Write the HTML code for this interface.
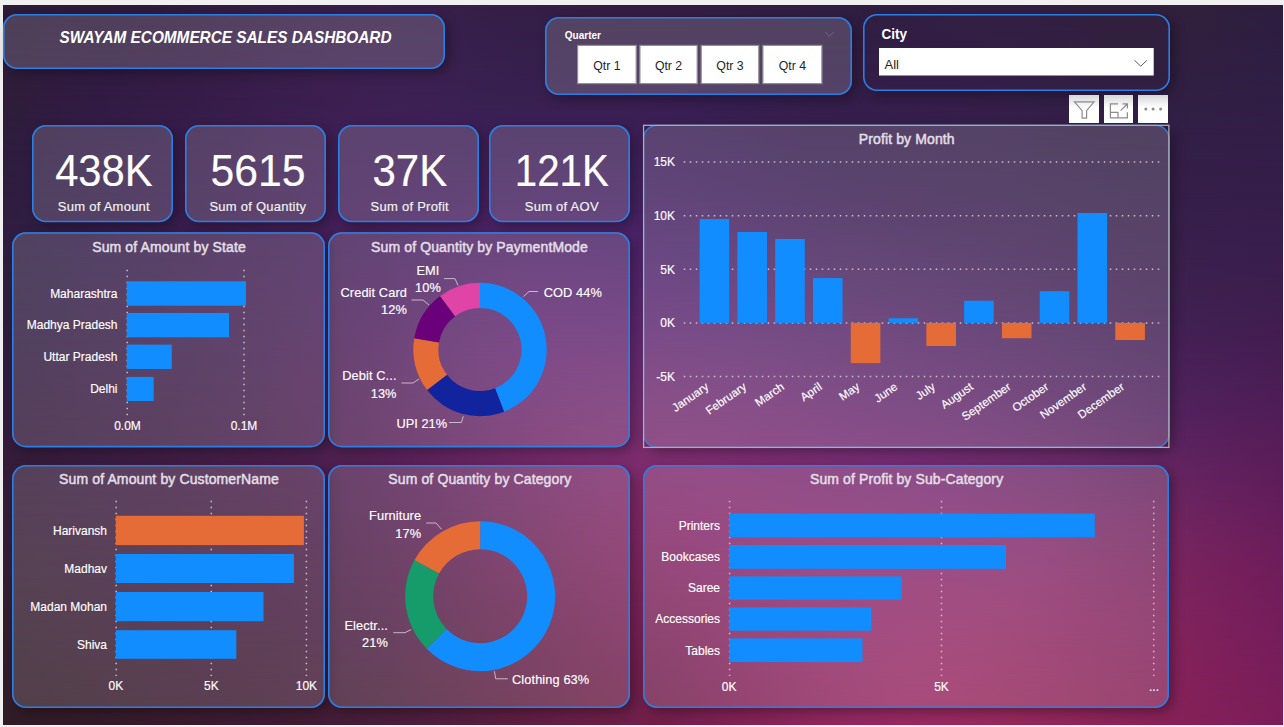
<!DOCTYPE html><html><head><meta charset="utf-8"><style>
html,body{margin:0;padding:0;width:1284px;height:727px;overflow:hidden;background:#f0f0f0;}
body{font-family:"Liberation Sans",sans-serif;position:relative;}
#canvas{position:absolute;left:3px;top:5px;width:1280px;height:720px;overflow:hidden;background:#3a2050;}
.b{position:absolute;left:-3px;width:1284px;}
.p{position:absolute;box-sizing:border-box;border-radius:14px;background:rgba(255,255,255,0.16);box-shadow:4px 4px 12px rgba(0,0,0,0.32);}
svg{position:absolute;left:0;top:0;}
text{font-family:"Liberation Sans",sans-serif;}
</style></head><body>
<div id="canvas"><div class="b" style="top:-5px;height:32px;background:linear-gradient(to right,rgb(44,28,54) 0.00%,rgb(45,27,57) 3.74%,rgb(46,27,57) 7.48%,rgb(47,27,59) 11.21%,rgb(49,28,62) 14.95%,rgb(51,29,66) 18.69%,rgb(53,30,69) 22.43%,rgb(55,30,71) 26.17%,rgb(56,31,72) 29.91%,rgb(55,31,72) 33.64%,rgb(53,31,71) 37.38%,rgb(51,31,69) 41.12%,rgb(50,30,67) 44.86%,rgb(50,30,65) 48.60%,rgb(49,30,65) 52.34%,rgb(49,30,65) 56.07%,rgb(48,29,65) 59.81%,rgb(48,30,65) 63.55%,rgb(48,30,65) 67.29%,rgb(49,30,66) 71.03%,rgb(50,31,66) 74.77%,rgb(50,31,65) 78.50%,rgb(50,32,63) 82.24%,rgb(49,32,61) 85.98%,rgb(49,32,60) 89.72%,rgb(48,32,59) 93.46%,rgb(45,30,63) 100.00%)"></div><div class="b" style="top:-5px;height:32px;background:linear-gradient(to right,rgb(45,28,57) 0.00%,rgb(47,28,60) 3.74%,rgb(47,27,61) 7.48%,rgb(48,27,63) 11.21%,rgb(51,28,66) 14.95%,rgb(53,29,69) 18.69%,rgb(55,30,72) 22.43%,rgb(57,31,75) 26.17%,rgb(58,31,76) 29.91%,rgb(57,32,77) 33.64%,rgb(54,31,75) 37.38%,rgb(52,31,73) 41.12%,rgb(52,31,71) 44.86%,rgb(51,30,69) 48.60%,rgb(51,30,69) 52.34%,rgb(50,30,69) 56.07%,rgb(50,30,69) 59.81%,rgb(49,30,68) 63.55%,rgb(49,30,68) 67.29%,rgb(50,30,68) 71.03%,rgb(51,31,69) 74.77%,rgb(51,31,68) 78.50%,rgb(50,31,66) 82.24%,rgb(50,32,63) 85.98%,rgb(49,32,62) 89.72%,rgb(48,32,62) 93.46%,rgb(46,29,66) 100.00%);-webkit-mask-image:linear-gradient(to bottom,transparent,#000);mask-image:linear-gradient(to bottom,transparent,#000)"></div><div class="b" style="top:27px;height:32px;background:linear-gradient(to right,rgb(45,28,57) 0.00%,rgb(47,28,60) 3.74%,rgb(47,27,61) 7.48%,rgb(48,27,63) 11.21%,rgb(51,28,66) 14.95%,rgb(53,29,69) 18.69%,rgb(55,30,72) 22.43%,rgb(57,31,75) 26.17%,rgb(58,31,76) 29.91%,rgb(57,32,77) 33.64%,rgb(54,31,75) 37.38%,rgb(52,31,73) 41.12%,rgb(52,31,71) 44.86%,rgb(51,30,69) 48.60%,rgb(51,30,69) 52.34%,rgb(50,30,69) 56.07%,rgb(50,30,69) 59.81%,rgb(49,30,68) 63.55%,rgb(49,30,68) 67.29%,rgb(50,30,68) 71.03%,rgb(51,31,69) 74.77%,rgb(51,31,68) 78.50%,rgb(50,31,66) 82.24%,rgb(50,32,63) 85.98%,rgb(49,32,62) 89.72%,rgb(48,32,62) 93.46%,rgb(46,29,66) 100.00%)"></div><div class="b" style="top:27px;height:32px;background:linear-gradient(to right,rgb(46,29,58) 0.00%,rgb(48,28,62) 3.74%,rgb(48,27,64) 7.48%,rgb(50,28,66) 11.21%,rgb(52,28,69) 14.95%,rgb(54,29,72) 18.69%,rgb(57,30,75) 22.43%,rgb(59,31,78) 26.17%,rgb(60,32,80) 29.91%,rgb(59,32,80) 33.64%,rgb(56,32,79) 37.38%,rgb(54,31,77) 41.12%,rgb(53,31,75) 44.86%,rgb(53,31,74) 48.60%,rgb(53,30,74) 52.34%,rgb(52,30,74) 56.07%,rgb(51,30,73) 59.81%,rgb(51,30,72) 63.55%,rgb(51,30,71) 67.29%,rgb(51,30,71) 71.03%,rgb(51,30,71) 74.77%,rgb(51,31,70) 78.50%,rgb(51,31,68) 82.24%,rgb(50,31,65) 85.98%,rgb(49,31,64) 89.72%,rgb(49,31,65) 93.46%,rgb(47,30,68) 100.00%);-webkit-mask-image:linear-gradient(to bottom,transparent,#000);mask-image:linear-gradient(to bottom,transparent,#000)"></div><div class="b" style="top:59px;height:32px;background:linear-gradient(to right,rgb(46,29,58) 0.00%,rgb(48,28,62) 3.74%,rgb(48,27,64) 7.48%,rgb(50,28,66) 11.21%,rgb(52,28,69) 14.95%,rgb(54,29,72) 18.69%,rgb(57,30,75) 22.43%,rgb(59,31,78) 26.17%,rgb(60,32,80) 29.91%,rgb(59,32,80) 33.64%,rgb(56,32,79) 37.38%,rgb(54,31,77) 41.12%,rgb(53,31,75) 44.86%,rgb(53,31,74) 48.60%,rgb(53,30,74) 52.34%,rgb(52,30,74) 56.07%,rgb(51,30,73) 59.81%,rgb(51,30,72) 63.55%,rgb(51,30,71) 67.29%,rgb(51,30,71) 71.03%,rgb(51,30,71) 74.77%,rgb(51,31,70) 78.50%,rgb(51,31,68) 82.24%,rgb(50,31,65) 85.98%,rgb(49,31,64) 89.72%,rgb(49,31,65) 93.46%,rgb(47,30,68) 100.00%)"></div><div class="b" style="top:59px;height:32px;background:linear-gradient(to right,rgb(46,29,57) 0.00%,rgb(48,28,63) 3.74%,rgb(49,27,67) 7.48%,rgb(51,28,69) 11.21%,rgb(53,28,72) 14.95%,rgb(56,29,75) 18.69%,rgb(58,30,78) 22.43%,rgb(60,31,81) 26.17%,rgb(61,32,83) 29.91%,rgb(60,32,84) 33.64%,rgb(57,32,82) 37.38%,rgb(56,32,81) 41.12%,rgb(56,31,80) 44.86%,rgb(56,31,80) 48.60%,rgb(56,31,80) 52.34%,rgb(54,30,79) 56.07%,rgb(53,30,77) 59.81%,rgb(52,30,75) 63.55%,rgb(52,30,74) 67.29%,rgb(52,30,73) 71.03%,rgb(52,30,73) 74.77%,rgb(52,31,71) 78.50%,rgb(51,31,69) 82.24%,rgb(50,30,67) 85.98%,rgb(50,31,67) 89.72%,rgb(49,31,67) 93.46%,rgb(48,30,70) 100.00%);-webkit-mask-image:linear-gradient(to bottom,transparent,#000);mask-image:linear-gradient(to bottom,transparent,#000)"></div><div class="b" style="top:91px;height:32px;background:linear-gradient(to right,rgb(46,29,57) 0.00%,rgb(48,28,63) 3.74%,rgb(49,27,67) 7.48%,rgb(51,28,69) 11.21%,rgb(53,28,72) 14.95%,rgb(56,29,75) 18.69%,rgb(58,30,78) 22.43%,rgb(60,31,81) 26.17%,rgb(61,32,83) 29.91%,rgb(60,32,84) 33.64%,rgb(57,32,82) 37.38%,rgb(56,32,81) 41.12%,rgb(56,31,80) 44.86%,rgb(56,31,80) 48.60%,rgb(56,31,80) 52.34%,rgb(54,30,79) 56.07%,rgb(53,30,77) 59.81%,rgb(52,30,75) 63.55%,rgb(52,30,74) 67.29%,rgb(52,30,73) 71.03%,rgb(52,30,73) 74.77%,rgb(52,31,71) 78.50%,rgb(51,31,69) 82.24%,rgb(50,30,67) 85.98%,rgb(50,31,67) 89.72%,rgb(49,31,67) 93.46%,rgb(48,30,70) 100.00%)"></div><div class="b" style="top:91px;height:32px;background:linear-gradient(to right,rgb(46,29,59) 0.00%,rgb(48,28,65) 3.74%,rgb(50,28,69) 7.48%,rgb(52,28,72) 11.21%,rgb(55,29,74) 14.95%,rgb(57,30,77) 18.69%,rgb(60,31,81) 22.43%,rgb(62,31,84) 26.17%,rgb(63,32,86) 29.91%,rgb(62,32,87) 33.64%,rgb(60,32,86) 37.38%,rgb(59,32,85) 41.12%,rgb(59,32,85) 44.86%,rgb(59,32,85) 48.60%,rgb(59,31,86) 52.34%,rgb(57,31,84) 56.07%,rgb(56,31,81) 59.81%,rgb(54,30,78) 63.55%,rgb(54,30,77) 67.29%,rgb(54,30,76) 71.03%,rgb(53,31,75) 74.77%,rgb(53,31,73) 78.50%,rgb(52,30,71) 82.24%,rgb(51,30,69) 85.98%,rgb(50,30,69) 89.72%,rgb(50,31,70) 93.46%,rgb(50,30,72) 100.00%);-webkit-mask-image:linear-gradient(to bottom,transparent,#000);mask-image:linear-gradient(to bottom,transparent,#000)"></div><div class="b" style="top:123px;height:32px;background:linear-gradient(to right,rgb(46,29,59) 0.00%,rgb(48,28,65) 3.74%,rgb(50,28,69) 7.48%,rgb(52,28,72) 11.21%,rgb(55,29,74) 14.95%,rgb(57,30,77) 18.69%,rgb(60,31,81) 22.43%,rgb(62,31,84) 26.17%,rgb(63,32,86) 29.91%,rgb(62,32,87) 33.64%,rgb(60,32,86) 37.38%,rgb(59,32,85) 41.12%,rgb(59,32,85) 44.86%,rgb(59,32,85) 48.60%,rgb(59,31,86) 52.34%,rgb(57,31,84) 56.07%,rgb(56,31,81) 59.81%,rgb(54,30,78) 63.55%,rgb(54,30,77) 67.29%,rgb(54,30,76) 71.03%,rgb(53,31,75) 74.77%,rgb(53,31,73) 78.50%,rgb(52,30,71) 82.24%,rgb(51,30,69) 85.98%,rgb(50,30,69) 89.72%,rgb(50,31,70) 93.46%,rgb(50,30,72) 100.00%)"></div><div class="b" style="top:123px;height:32px;background:linear-gradient(to right,rgb(46,29,61) 0.00%,rgb(48,28,67) 3.74%,rgb(51,28,71) 7.48%,rgb(53,29,74) 11.21%,rgb(56,29,76) 14.95%,rgb(59,30,79) 18.69%,rgb(62,31,83) 22.43%,rgb(64,32,86) 26.17%,rgb(65,32,89) 29.91%,rgb(65,33,90) 33.64%,rgb(64,33,91) 37.38%,rgb(64,33,91) 41.12%,rgb(64,33,91) 44.86%,rgb(64,33,91) 48.60%,rgb(63,32,91) 52.34%,rgb(61,32,89) 56.07%,rgb(59,31,85) 59.81%,rgb(57,31,82) 63.55%,rgb(56,31,80) 67.29%,rgb(56,31,78) 71.03%,rgb(55,31,77) 74.77%,rgb(55,31,76) 78.50%,rgb(54,31,74) 82.24%,rgb(52,30,72) 85.98%,rgb(52,30,71) 89.72%,rgb(51,31,72) 93.46%,rgb(51,30,73) 100.00%);-webkit-mask-image:linear-gradient(to bottom,transparent,#000);mask-image:linear-gradient(to bottom,transparent,#000)"></div><div class="b" style="top:155px;height:32px;background:linear-gradient(to right,rgb(46,29,61) 0.00%,rgb(48,28,67) 3.74%,rgb(51,28,71) 7.48%,rgb(53,29,74) 11.21%,rgb(56,29,76) 14.95%,rgb(59,30,79) 18.69%,rgb(62,31,83) 22.43%,rgb(64,32,86) 26.17%,rgb(65,32,89) 29.91%,rgb(65,33,90) 33.64%,rgb(64,33,91) 37.38%,rgb(64,33,91) 41.12%,rgb(64,33,91) 44.86%,rgb(64,33,91) 48.60%,rgb(63,32,91) 52.34%,rgb(61,32,89) 56.07%,rgb(59,31,85) 59.81%,rgb(57,31,82) 63.55%,rgb(56,31,80) 67.29%,rgb(56,31,78) 71.03%,rgb(55,31,77) 74.77%,rgb(55,31,76) 78.50%,rgb(54,31,74) 82.24%,rgb(52,30,72) 85.98%,rgb(52,30,71) 89.72%,rgb(51,31,72) 93.46%,rgb(51,30,73) 100.00%)"></div><div class="b" style="top:155px;height:32px;background:linear-gradient(to right,rgb(46,29,63) 0.00%,rgb(49,29,68) 3.74%,rgb(51,29,72) 7.48%,rgb(54,29,75) 11.21%,rgb(57,30,78) 14.95%,rgb(60,30,81) 18.69%,rgb(63,31,84) 22.43%,rgb(66,32,88) 26.17%,rgb(68,33,91) 29.91%,rgb(69,33,94) 33.64%,rgb(69,34,95) 37.38%,rgb(69,34,96) 41.12%,rgb(69,34,96) 44.86%,rgb(68,34,97) 48.60%,rgb(67,34,96) 52.34%,rgb(65,33,94) 56.07%,rgb(63,33,90) 59.81%,rgb(61,32,86) 63.55%,rgb(60,32,84) 67.29%,rgb(59,32,82) 71.03%,rgb(58,32,80) 74.77%,rgb(57,32,79) 78.50%,rgb(56,31,76) 82.24%,rgb(54,31,74) 85.98%,rgb(53,31,73) 89.72%,rgb(53,31,73) 93.46%,rgb(53,30,74) 100.00%);-webkit-mask-image:linear-gradient(to bottom,transparent,#000);mask-image:linear-gradient(to bottom,transparent,#000)"></div><div class="b" style="top:187px;height:32px;background:linear-gradient(to right,rgb(46,29,63) 0.00%,rgb(49,29,68) 3.74%,rgb(51,29,72) 7.48%,rgb(54,29,75) 11.21%,rgb(57,30,78) 14.95%,rgb(60,30,81) 18.69%,rgb(63,31,84) 22.43%,rgb(66,32,88) 26.17%,rgb(68,33,91) 29.91%,rgb(69,33,94) 33.64%,rgb(69,34,95) 37.38%,rgb(69,34,96) 41.12%,rgb(69,34,96) 44.86%,rgb(68,34,97) 48.60%,rgb(67,34,96) 52.34%,rgb(65,33,94) 56.07%,rgb(63,33,90) 59.81%,rgb(61,32,86) 63.55%,rgb(60,32,84) 67.29%,rgb(59,32,82) 71.03%,rgb(58,32,80) 74.77%,rgb(57,32,79) 78.50%,rgb(56,31,76) 82.24%,rgb(54,31,74) 85.98%,rgb(53,31,73) 89.72%,rgb(53,31,73) 93.46%,rgb(53,30,74) 100.00%)"></div><div class="b" style="top:187px;height:32px;background:linear-gradient(to right,rgb(47,30,64) 0.00%,rgb(49,29,69) 3.74%,rgb(52,29,73) 7.48%,rgb(55,30,76) 11.21%,rgb(58,30,78) 14.95%,rgb(62,31,81) 18.69%,rgb(65,31,85) 22.43%,rgb(68,32,89) 26.17%,rgb(71,33,93) 29.91%,rgb(73,34,97) 33.64%,rgb(75,35,99) 37.38%,rgb(75,35,101) 41.12%,rgb(75,35,102) 44.86%,rgb(74,35,102) 48.60%,rgb(72,35,101) 52.34%,rgb(70,35,99) 56.07%,rgb(68,34,95) 59.81%,rgb(66,34,91) 63.55%,rgb(65,34,88) 67.29%,rgb(63,33,86) 71.03%,rgb(62,33,84) 74.77%,rgb(61,33,82) 78.50%,rgb(59,32,80) 82.24%,rgb(57,32,77) 85.98%,rgb(56,31,75) 89.72%,rgb(55,31,75) 93.46%,rgb(55,30,75) 100.00%);-webkit-mask-image:linear-gradient(to bottom,transparent,#000);mask-image:linear-gradient(to bottom,transparent,#000)"></div><div class="b" style="top:219px;height:32px;background:linear-gradient(to right,rgb(47,30,64) 0.00%,rgb(49,29,69) 3.74%,rgb(52,29,73) 7.48%,rgb(55,30,76) 11.21%,rgb(58,30,78) 14.95%,rgb(62,31,81) 18.69%,rgb(65,31,85) 22.43%,rgb(68,32,89) 26.17%,rgb(71,33,93) 29.91%,rgb(73,34,97) 33.64%,rgb(75,35,99) 37.38%,rgb(75,35,101) 41.12%,rgb(75,35,102) 44.86%,rgb(74,35,102) 48.60%,rgb(72,35,101) 52.34%,rgb(70,35,99) 56.07%,rgb(68,34,95) 59.81%,rgb(66,34,91) 63.55%,rgb(65,34,88) 67.29%,rgb(63,33,86) 71.03%,rgb(62,33,84) 74.77%,rgb(61,33,82) 78.50%,rgb(59,32,80) 82.24%,rgb(57,32,77) 85.98%,rgb(56,31,75) 89.72%,rgb(55,31,75) 93.46%,rgb(55,30,75) 100.00%)"></div><div class="b" style="top:219px;height:32px;background:linear-gradient(to right,rgb(47,30,65) 0.00%,rgb(50,30,69) 3.74%,rgb(53,30,73) 7.48%,rgb(56,30,76) 11.21%,rgb(60,30,78) 14.95%,rgb(63,31,81) 18.69%,rgb(67,32,85) 22.43%,rgb(70,32,90) 26.17%,rgb(74,33,95) 29.91%,rgb(78,35,100) 33.64%,rgb(81,36,103) 37.38%,rgb(82,36,105) 41.12%,rgb(82,36,106) 44.86%,rgb(80,36,107) 48.60%,rgb(78,37,106) 52.34%,rgb(76,37,104) 56.07%,rgb(75,36,100) 59.81%,rgb(73,36,96) 63.55%,rgb(71,36,93) 67.29%,rgb(69,35,91) 71.03%,rgb(67,35,89) 74.77%,rgb(65,34,86) 78.50%,rgb(63,33,83) 82.24%,rgb(61,33,80) 85.98%,rgb(59,32,78) 89.72%,rgb(58,31,77) 93.46%,rgb(57,30,77) 100.00%);-webkit-mask-image:linear-gradient(to bottom,transparent,#000);mask-image:linear-gradient(to bottom,transparent,#000)"></div><div class="b" style="top:251px;height:32px;background:linear-gradient(to right,rgb(47,30,65) 0.00%,rgb(50,30,69) 3.74%,rgb(53,30,73) 7.48%,rgb(56,30,76) 11.21%,rgb(60,30,78) 14.95%,rgb(63,31,81) 18.69%,rgb(67,32,85) 22.43%,rgb(70,32,90) 26.17%,rgb(74,33,95) 29.91%,rgb(78,35,100) 33.64%,rgb(81,36,103) 37.38%,rgb(82,36,105) 41.12%,rgb(82,36,106) 44.86%,rgb(80,36,107) 48.60%,rgb(78,37,106) 52.34%,rgb(76,37,104) 56.07%,rgb(75,36,100) 59.81%,rgb(73,36,96) 63.55%,rgb(71,36,93) 67.29%,rgb(69,35,91) 71.03%,rgb(67,35,89) 74.77%,rgb(65,34,86) 78.50%,rgb(63,33,83) 82.24%,rgb(61,33,80) 85.98%,rgb(59,32,78) 89.72%,rgb(58,31,77) 93.46%,rgb(57,30,77) 100.00%)"></div><div class="b" style="top:251px;height:32px;background:linear-gradient(to right,rgb(48,30,65) 0.00%,rgb(50,30,69) 3.74%,rgb(54,30,72) 7.48%,rgb(57,30,75) 11.21%,rgb(61,31,78) 14.95%,rgb(65,31,81) 18.69%,rgb(69,32,85) 22.43%,rgb(73,32,90) 26.17%,rgb(77,33,96) 29.91%,rgb(82,35,102) 33.64%,rgb(87,37,106) 37.38%,rgb(89,38,109) 41.12%,rgb(89,38,110) 44.86%,rgb(87,38,110) 48.60%,rgb(85,39,110) 52.34%,rgb(84,39,108) 56.07%,rgb(82,39,104) 59.81%,rgb(80,38,101) 63.55%,rgb(77,38,98) 67.29%,rgb(75,37,96) 71.03%,rgb(73,36,93) 74.77%,rgb(70,36,90) 78.50%,rgb(67,35,87) 82.24%,rgb(65,34,84) 85.98%,rgb(62,33,81) 89.72%,rgb(61,32,79) 93.46%,rgb(61,30,78) 100.00%);-webkit-mask-image:linear-gradient(to bottom,transparent,#000);mask-image:linear-gradient(to bottom,transparent,#000)"></div><div class="b" style="top:283px;height:32px;background:linear-gradient(to right,rgb(48,30,65) 0.00%,rgb(50,30,69) 3.74%,rgb(54,30,72) 7.48%,rgb(57,30,75) 11.21%,rgb(61,31,78) 14.95%,rgb(65,31,81) 18.69%,rgb(69,32,85) 22.43%,rgb(73,32,90) 26.17%,rgb(77,33,96) 29.91%,rgb(82,35,102) 33.64%,rgb(87,37,106) 37.38%,rgb(89,38,109) 41.12%,rgb(89,38,110) 44.86%,rgb(87,38,110) 48.60%,rgb(85,39,110) 52.34%,rgb(84,39,108) 56.07%,rgb(82,39,104) 59.81%,rgb(80,38,101) 63.55%,rgb(77,38,98) 67.29%,rgb(75,37,96) 71.03%,rgb(73,36,93) 74.77%,rgb(70,36,90) 78.50%,rgb(67,35,87) 82.24%,rgb(65,34,84) 85.98%,rgb(62,33,81) 89.72%,rgb(61,32,79) 93.46%,rgb(61,30,78) 100.00%)"></div><div class="b" style="top:283px;height:32px;background:linear-gradient(to right,rgb(48,29,64) 0.00%,rgb(51,29,68) 3.74%,rgb(55,30,71) 7.48%,rgb(58,30,74) 11.21%,rgb(62,31,77) 14.95%,rgb(66,31,80) 18.69%,rgb(70,32,84) 22.43%,rgb(75,32,90) 26.17%,rgb(80,33,96) 29.91%,rgb(87,36,103) 33.64%,rgb(92,39,108) 37.38%,rgb(95,39,111) 41.12%,rgb(96,39,112) 44.86%,rgb(95,40,113) 48.60%,rgb(93,41,113) 52.34%,rgb(91,41,111) 56.07%,rgb(90,41,108) 59.81%,rgb(87,40,106) 63.55%,rgb(85,40,103) 67.29%,rgb(82,39,101) 71.03%,rgb(79,38,98) 74.77%,rgb(76,37,95) 78.50%,rgb(73,36,92) 82.24%,rgb(69,35,88) 85.98%,rgb(67,33,85) 89.72%,rgb(65,32,82) 93.46%,rgb(64,29,80) 100.00%);-webkit-mask-image:linear-gradient(to bottom,transparent,#000);mask-image:linear-gradient(to bottom,transparent,#000)"></div><div class="b" style="top:315px;height:32px;background:linear-gradient(to right,rgb(48,29,64) 0.00%,rgb(51,29,68) 3.74%,rgb(55,30,71) 7.48%,rgb(58,30,74) 11.21%,rgb(62,31,77) 14.95%,rgb(66,31,80) 18.69%,rgb(70,32,84) 22.43%,rgb(75,32,90) 26.17%,rgb(80,33,96) 29.91%,rgb(87,36,103) 33.64%,rgb(92,39,108) 37.38%,rgb(95,39,111) 41.12%,rgb(96,39,112) 44.86%,rgb(95,40,113) 48.60%,rgb(93,41,113) 52.34%,rgb(91,41,111) 56.07%,rgb(90,41,108) 59.81%,rgb(87,40,106) 63.55%,rgb(85,40,103) 67.29%,rgb(82,39,101) 71.03%,rgb(79,38,98) 74.77%,rgb(76,37,95) 78.50%,rgb(73,36,92) 82.24%,rgb(69,35,88) 85.98%,rgb(67,33,85) 89.72%,rgb(65,32,82) 93.46%,rgb(64,29,80) 100.00%)"></div><div class="b" style="top:315px;height:32px;background:linear-gradient(to right,rgb(49,29,63) 0.00%,rgb(52,29,66) 3.74%,rgb(56,29,70) 7.48%,rgb(59,30,73) 11.21%,rgb(63,31,76) 14.95%,rgb(67,31,79) 18.69%,rgb(72,32,83) 22.43%,rgb(77,32,88) 26.17%,rgb(83,34,95) 29.91%,rgb(90,37,103) 33.64%,rgb(97,40,109) 37.38%,rgb(101,41,112) 41.12%,rgb(103,41,113) 44.86%,rgb(103,42,114) 48.60%,rgb(102,43,114) 52.34%,rgb(100,44,113) 56.07%,rgb(98,43,111) 59.81%,rgb(95,42,109) 63.55%,rgb(92,41,107) 67.29%,rgb(89,41,105) 71.03%,rgb(86,40,102) 74.77%,rgb(83,39,99) 78.50%,rgb(79,38,96) 82.24%,rgb(75,36,92) 85.98%,rgb(72,34,89) 89.72%,rgb(70,32,86) 93.46%,rgb(69,29,83) 100.00%);-webkit-mask-image:linear-gradient(to bottom,transparent,#000);mask-image:linear-gradient(to bottom,transparent,#000)"></div><div class="b" style="top:347px;height:32px;background:linear-gradient(to right,rgb(49,29,63) 0.00%,rgb(52,29,66) 3.74%,rgb(56,29,70) 7.48%,rgb(59,30,73) 11.21%,rgb(63,31,76) 14.95%,rgb(67,31,79) 18.69%,rgb(72,32,83) 22.43%,rgb(77,32,88) 26.17%,rgb(83,34,95) 29.91%,rgb(90,37,103) 33.64%,rgb(97,40,109) 37.38%,rgb(101,41,112) 41.12%,rgb(103,41,113) 44.86%,rgb(103,42,114) 48.60%,rgb(102,43,114) 52.34%,rgb(100,44,113) 56.07%,rgb(98,43,111) 59.81%,rgb(95,42,109) 63.55%,rgb(92,41,107) 67.29%,rgb(89,41,105) 71.03%,rgb(86,40,102) 74.77%,rgb(83,39,99) 78.50%,rgb(79,38,96) 82.24%,rgb(75,36,92) 85.98%,rgb(72,34,89) 89.72%,rgb(70,32,86) 93.46%,rgb(69,29,83) 100.00%)"></div><div class="b" style="top:347px;height:32px;background:linear-gradient(to right,rgb(50,28,61) 0.00%,rgb(53,28,65) 3.74%,rgb(57,29,68) 7.48%,rgb(60,30,71) 11.21%,rgb(64,30,74) 14.95%,rgb(68,31,77) 18.69%,rgb(73,32,81) 22.43%,rgb(78,33,86) 26.17%,rgb(85,35,93) 29.91%,rgb(93,38,101) 33.64%,rgb(100,40,107) 37.38%,rgb(106,41,110) 41.12%,rgb(109,42,112) 44.86%,rgb(110,44,114) 48.60%,rgb(110,46,114) 52.34%,rgb(108,46,114) 56.07%,rgb(106,45,113) 59.81%,rgb(103,44,112) 63.55%,rgb(100,43,111) 67.29%,rgb(97,42,109) 71.03%,rgb(94,41,106) 74.77%,rgb(90,40,103) 78.50%,rgb(86,39,99) 82.24%,rgb(81,37,96) 85.98%,rgb(78,35,93) 89.72%,rgb(76,33,89) 93.46%,rgb(75,29,85) 100.00%);-webkit-mask-image:linear-gradient(to bottom,transparent,#000);mask-image:linear-gradient(to bottom,transparent,#000)"></div><div class="b" style="top:379px;height:32px;background:linear-gradient(to right,rgb(50,28,61) 0.00%,rgb(53,28,65) 3.74%,rgb(57,29,68) 7.48%,rgb(60,30,71) 11.21%,rgb(64,30,74) 14.95%,rgb(68,31,77) 18.69%,rgb(73,32,81) 22.43%,rgb(78,33,86) 26.17%,rgb(85,35,93) 29.91%,rgb(93,38,101) 33.64%,rgb(100,40,107) 37.38%,rgb(106,41,110) 41.12%,rgb(109,42,112) 44.86%,rgb(110,44,114) 48.60%,rgb(110,46,114) 52.34%,rgb(108,46,114) 56.07%,rgb(106,45,113) 59.81%,rgb(103,44,112) 63.55%,rgb(100,43,111) 67.29%,rgb(97,42,109) 71.03%,rgb(94,41,106) 74.77%,rgb(90,40,103) 78.50%,rgb(86,39,99) 82.24%,rgb(81,37,96) 85.98%,rgb(78,35,93) 89.72%,rgb(76,33,89) 93.46%,rgb(75,29,85) 100.00%)"></div><div class="b" style="top:379px;height:32px;background:linear-gradient(to right,rgb(51,28,59) 0.00%,rgb(54,28,63) 3.74%,rgb(57,29,66) 7.48%,rgb(61,29,69) 11.21%,rgb(65,30,72) 14.95%,rgb(69,31,76) 18.69%,rgb(74,32,79) 22.43%,rgb(79,33,84) 26.17%,rgb(86,35,90) 29.91%,rgb(94,37,97) 33.64%,rgb(102,40,104) 37.38%,rgb(109,41,108) 41.12%,rgb(114,43,110) 44.86%,rgb(117,45,112) 48.60%,rgb(117,47,113) 52.34%,rgb(116,46,114) 56.07%,rgb(114,45,114) 59.81%,rgb(111,45,114) 63.55%,rgb(108,44,113) 67.29%,rgb(105,44,112) 71.03%,rgb(102,43,109) 74.77%,rgb(98,42,106) 78.50%,rgb(94,40,102) 82.24%,rgb(89,39,99) 85.98%,rgb(85,36,96) 89.72%,rgb(83,33,92) 93.46%,rgb(81,29,88) 100.00%);-webkit-mask-image:linear-gradient(to bottom,transparent,#000);mask-image:linear-gradient(to bottom,transparent,#000)"></div><div class="b" style="top:411px;height:32px;background:linear-gradient(to right,rgb(51,28,59) 0.00%,rgb(54,28,63) 3.74%,rgb(57,29,66) 7.48%,rgb(61,29,69) 11.21%,rgb(65,30,72) 14.95%,rgb(69,31,76) 18.69%,rgb(74,32,79) 22.43%,rgb(79,33,84) 26.17%,rgb(86,35,90) 29.91%,rgb(94,37,97) 33.64%,rgb(102,40,104) 37.38%,rgb(109,41,108) 41.12%,rgb(114,43,110) 44.86%,rgb(117,45,112) 48.60%,rgb(117,47,113) 52.34%,rgb(116,46,114) 56.07%,rgb(114,45,114) 59.81%,rgb(111,45,114) 63.55%,rgb(108,44,113) 67.29%,rgb(105,44,112) 71.03%,rgb(102,43,109) 74.77%,rgb(98,42,106) 78.50%,rgb(94,40,102) 82.24%,rgb(89,39,99) 85.98%,rgb(85,36,96) 89.72%,rgb(83,33,92) 93.46%,rgb(81,29,88) 100.00%)"></div><div class="b" style="top:411px;height:32px;background:linear-gradient(to right,rgb(52,28,58) 0.00%,rgb(55,28,61) 3.74%,rgb(58,29,65) 7.48%,rgb(62,29,67) 11.21%,rgb(65,30,70) 14.95%,rgb(70,30,74) 18.69%,rgb(74,31,77) 22.43%,rgb(79,33,81) 26.17%,rgb(86,34,87) 29.91%,rgb(94,36,94) 33.64%,rgb(103,39,100) 37.38%,rgb(111,41,104) 41.12%,rgb(118,43,107) 44.86%,rgb(122,44,110) 48.60%,rgb(124,46,112) 52.34%,rgb(123,46,114) 56.07%,rgb(121,45,114) 59.81%,rgb(119,45,115) 63.55%,rgb(116,45,115) 67.29%,rgb(113,44,114) 71.03%,rgb(110,44,111) 74.77%,rgb(107,43,108) 78.50%,rgb(103,42,104) 82.24%,rgb(98,40,101) 85.98%,rgb(94,37,97) 89.72%,rgb(91,34,94) 93.46%,rgb(88,29,89) 100.00%);-webkit-mask-image:linear-gradient(to bottom,transparent,#000);mask-image:linear-gradient(to bottom,transparent,#000)"></div><div class="b" style="top:443px;height:32px;background:linear-gradient(to right,rgb(52,28,58) 0.00%,rgb(55,28,61) 3.74%,rgb(58,29,65) 7.48%,rgb(62,29,67) 11.21%,rgb(65,30,70) 14.95%,rgb(70,30,74) 18.69%,rgb(74,31,77) 22.43%,rgb(79,33,81) 26.17%,rgb(86,34,87) 29.91%,rgb(94,36,94) 33.64%,rgb(103,39,100) 37.38%,rgb(111,41,104) 41.12%,rgb(118,43,107) 44.86%,rgb(122,44,110) 48.60%,rgb(124,46,112) 52.34%,rgb(123,46,114) 56.07%,rgb(121,45,114) 59.81%,rgb(119,45,115) 63.55%,rgb(116,45,115) 67.29%,rgb(113,44,114) 71.03%,rgb(110,44,111) 74.77%,rgb(107,43,108) 78.50%,rgb(103,42,104) 82.24%,rgb(98,40,101) 85.98%,rgb(94,37,97) 89.72%,rgb(91,34,94) 93.46%,rgb(88,29,89) 100.00%)"></div><div class="b" style="top:443px;height:32px;background:linear-gradient(to right,rgb(52,29,56) 0.00%,rgb(55,29,60) 3.74%,rgb(59,29,63) 7.48%,rgb(62,29,65) 11.21%,rgb(66,29,68) 14.95%,rgb(70,30,71) 18.69%,rgb(74,30,75) 22.43%,rgb(78,31,79) 26.17%,rgb(85,33,84) 29.91%,rgb(94,35,90) 33.64%,rgb(103,37,95) 37.38%,rgb(112,40,100) 41.12%,rgb(120,42,104) 44.86%,rgb(126,43,107) 48.60%,rgb(129,43,110) 52.34%,rgb(129,44,112) 56.07%,rgb(127,44,113) 59.81%,rgb(125,45,114) 63.55%,rgb(123,45,115) 67.29%,rgb(121,45,114) 71.03%,rgb(119,44,112) 74.77%,rgb(116,44,109) 78.50%,rgb(112,43,106) 82.24%,rgb(108,41,101) 85.98%,rgb(104,38,97) 89.72%,rgb(100,35,95) 93.46%,rgb(94,29,90) 100.00%);-webkit-mask-image:linear-gradient(to bottom,transparent,#000);mask-image:linear-gradient(to bottom,transparent,#000)"></div><div class="b" style="top:475px;height:32px;background:linear-gradient(to right,rgb(52,29,56) 0.00%,rgb(55,29,60) 3.74%,rgb(59,29,63) 7.48%,rgb(62,29,65) 11.21%,rgb(66,29,68) 14.95%,rgb(70,30,71) 18.69%,rgb(74,30,75) 22.43%,rgb(78,31,79) 26.17%,rgb(85,33,84) 29.91%,rgb(94,35,90) 33.64%,rgb(103,37,95) 37.38%,rgb(112,40,100) 41.12%,rgb(120,42,104) 44.86%,rgb(126,43,107) 48.60%,rgb(129,43,110) 52.34%,rgb(129,44,112) 56.07%,rgb(127,44,113) 59.81%,rgb(125,45,114) 63.55%,rgb(123,45,115) 67.29%,rgb(121,45,114) 71.03%,rgb(119,44,112) 74.77%,rgb(116,44,109) 78.50%,rgb(112,43,106) 82.24%,rgb(108,41,101) 85.98%,rgb(104,38,97) 89.72%,rgb(100,35,95) 93.46%,rgb(94,29,90) 100.00%)"></div><div class="b" style="top:475px;height:32px;background:linear-gradient(to right,rgb(53,29,55) 0.00%,rgb(56,29,58) 3.74%,rgb(59,29,61) 7.48%,rgb(62,29,63) 11.21%,rgb(65,29,66) 14.95%,rgb(69,29,69) 18.69%,rgb(73,29,72) 22.43%,rgb(78,30,76) 26.17%,rgb(84,32,81) 29.91%,rgb(93,34,86) 33.64%,rgb(102,36,91) 37.38%,rgb(112,38,95) 41.12%,rgb(120,40,99) 44.86%,rgb(127,41,103) 48.60%,rgb(131,41,107) 52.34%,rgb(132,42,109) 56.07%,rgb(132,43,111) 59.81%,rgb(131,44,113) 63.55%,rgb(130,45,114) 67.29%,rgb(129,45,113) 71.03%,rgb(127,45,112) 74.77%,rgb(124,44,109) 78.50%,rgb(121,43,106) 82.24%,rgb(117,41,102) 85.98%,rgb(113,39,97) 89.72%,rgb(108,35,95) 93.46%,rgb(101,29,91) 100.00%);-webkit-mask-image:linear-gradient(to bottom,transparent,#000);mask-image:linear-gradient(to bottom,transparent,#000)"></div><div class="b" style="top:507px;height:32px;background:linear-gradient(to right,rgb(53,29,55) 0.00%,rgb(56,29,58) 3.74%,rgb(59,29,61) 7.48%,rgb(62,29,63) 11.21%,rgb(65,29,66) 14.95%,rgb(69,29,69) 18.69%,rgb(73,29,72) 22.43%,rgb(78,30,76) 26.17%,rgb(84,32,81) 29.91%,rgb(93,34,86) 33.64%,rgb(102,36,91) 37.38%,rgb(112,38,95) 41.12%,rgb(120,40,99) 44.86%,rgb(127,41,103) 48.60%,rgb(131,41,107) 52.34%,rgb(132,42,109) 56.07%,rgb(132,43,111) 59.81%,rgb(131,44,113) 63.55%,rgb(130,45,114) 67.29%,rgb(129,45,113) 71.03%,rgb(127,45,112) 74.77%,rgb(124,44,109) 78.50%,rgb(121,43,106) 82.24%,rgb(117,41,102) 85.98%,rgb(113,39,97) 89.72%,rgb(108,35,95) 93.46%,rgb(101,29,91) 100.00%)"></div><div class="b" style="top:507px;height:32px;background:linear-gradient(to right,rgb(53,30,53) 0.00%,rgb(56,30,56) 3.74%,rgb(59,29,58) 7.48%,rgb(61,29,61) 11.21%,rgb(65,29,63) 14.95%,rgb(68,29,66) 18.69%,rgb(72,29,69) 22.43%,rgb(76,29,73) 26.17%,rgb(83,31,77) 29.91%,rgb(91,32,81) 33.64%,rgb(101,34,86) 37.38%,rgb(110,36,90) 41.12%,rgb(119,38,94) 44.86%,rgb(126,39,98) 48.60%,rgb(131,39,102) 52.34%,rgb(133,40,106) 56.07%,rgb(134,42,109) 59.81%,rgb(135,43,111) 63.55%,rgb(135,44,112) 67.29%,rgb(135,45,112) 71.03%,rgb(134,45,111) 74.77%,rgb(132,44,109) 78.50%,rgb(129,43,106) 82.24%,rgb(124,41,101) 85.98%,rgb(120,38,97) 89.72%,rgb(115,35,94) 93.46%,rgb(107,29,91) 100.00%);-webkit-mask-image:linear-gradient(to bottom,transparent,#000);mask-image:linear-gradient(to bottom,transparent,#000)"></div><div class="b" style="top:539px;height:32px;background:linear-gradient(to right,rgb(53,30,53) 0.00%,rgb(56,30,56) 3.74%,rgb(59,29,58) 7.48%,rgb(61,29,61) 11.21%,rgb(65,29,63) 14.95%,rgb(68,29,66) 18.69%,rgb(72,29,69) 22.43%,rgb(76,29,73) 26.17%,rgb(83,31,77) 29.91%,rgb(91,32,81) 33.64%,rgb(101,34,86) 37.38%,rgb(110,36,90) 41.12%,rgb(119,38,94) 44.86%,rgb(126,39,98) 48.60%,rgb(131,39,102) 52.34%,rgb(133,40,106) 56.07%,rgb(134,42,109) 59.81%,rgb(135,43,111) 63.55%,rgb(135,44,112) 67.29%,rgb(135,45,112) 71.03%,rgb(134,45,111) 74.77%,rgb(132,44,109) 78.50%,rgb(129,43,106) 82.24%,rgb(124,41,101) 85.98%,rgb(120,38,97) 89.72%,rgb(115,35,94) 93.46%,rgb(107,29,91) 100.00%)"></div><div class="b" style="top:539px;height:32px;background:linear-gradient(to right,rgb(53,30,51) 0.00%,rgb(56,30,53) 3.74%,rgb(58,29,56) 7.48%,rgb(61,29,58) 11.21%,rgb(64,28,60) 14.95%,rgb(67,28,63) 18.69%,rgb(70,29,66) 22.43%,rgb(75,29,70) 26.17%,rgb(81,30,73) 29.91%,rgb(89,31,77) 33.64%,rgb(99,33,81) 37.38%,rgb(108,35,85) 41.12%,rgb(117,36,89) 44.86%,rgb(124,37,93) 48.60%,rgb(129,37,98) 52.34%,rgb(133,39,102) 56.07%,rgb(136,40,105) 59.81%,rgb(138,42,108) 63.55%,rgb(140,44,110) 67.29%,rgb(141,44,110) 71.03%,rgb(140,44,109) 74.77%,rgb(138,44,107) 78.50%,rgb(135,42,105) 82.24%,rgb(130,40,100) 85.98%,rgb(125,37,96) 89.72%,rgb(120,34,93) 93.46%,rgb(112,29,91) 100.00%);-webkit-mask-image:linear-gradient(to bottom,transparent,#000);mask-image:linear-gradient(to bottom,transparent,#000)"></div><div class="b" style="top:571px;height:32px;background:linear-gradient(to right,rgb(53,30,51) 0.00%,rgb(56,30,53) 3.74%,rgb(58,29,56) 7.48%,rgb(61,29,58) 11.21%,rgb(64,28,60) 14.95%,rgb(67,28,63) 18.69%,rgb(70,29,66) 22.43%,rgb(75,29,70) 26.17%,rgb(81,30,73) 29.91%,rgb(89,31,77) 33.64%,rgb(99,33,81) 37.38%,rgb(108,35,85) 41.12%,rgb(117,36,89) 44.86%,rgb(124,37,93) 48.60%,rgb(129,37,98) 52.34%,rgb(133,39,102) 56.07%,rgb(136,40,105) 59.81%,rgb(138,42,108) 63.55%,rgb(140,44,110) 67.29%,rgb(141,44,110) 71.03%,rgb(140,44,109) 74.77%,rgb(138,44,107) 78.50%,rgb(135,42,105) 82.24%,rgb(130,40,100) 85.98%,rgb(125,37,96) 89.72%,rgb(120,34,93) 93.46%,rgb(112,29,91) 100.00%)"></div><div class="b" style="top:571px;height:32px;background:linear-gradient(to right,rgb(52,30,48) 0.00%,rgb(55,29,50) 3.74%,rgb(57,29,53) 7.48%,rgb(60,28,55) 11.21%,rgb(63,28,57) 14.95%,rgb(66,28,60) 18.69%,rgb(69,28,63) 22.43%,rgb(73,29,66) 26.17%,rgb(79,30,70) 29.91%,rgb(87,31,73) 33.64%,rgb(96,32,76) 37.38%,rgb(105,33,80) 41.12%,rgb(113,34,84) 44.86%,rgb(120,35,88) 48.60%,rgb(126,36,92) 52.34%,rgb(131,37,97) 56.07%,rgb(136,39,101) 59.81%,rgb(140,41,105) 63.55%,rgb(143,43,107) 67.29%,rgb(145,44,107) 71.03%,rgb(145,44,106) 74.77%,rgb(143,43,104) 78.50%,rgb(139,41,102) 82.24%,rgb(134,39,98) 85.98%,rgb(129,37,95) 89.72%,rgb(124,34,92) 93.46%,rgb(115,29,91) 100.00%);-webkit-mask-image:linear-gradient(to bottom,transparent,#000);mask-image:linear-gradient(to bottom,transparent,#000)"></div><div class="b" style="top:603px;height:32px;background:linear-gradient(to right,rgb(52,30,48) 0.00%,rgb(55,29,50) 3.74%,rgb(57,29,53) 7.48%,rgb(60,28,55) 11.21%,rgb(63,28,57) 14.95%,rgb(66,28,60) 18.69%,rgb(69,28,63) 22.43%,rgb(73,29,66) 26.17%,rgb(79,30,70) 29.91%,rgb(87,31,73) 33.64%,rgb(96,32,76) 37.38%,rgb(105,33,80) 41.12%,rgb(113,34,84) 44.86%,rgb(120,35,88) 48.60%,rgb(126,36,92) 52.34%,rgb(131,37,97) 56.07%,rgb(136,39,101) 59.81%,rgb(140,41,105) 63.55%,rgb(143,43,107) 67.29%,rgb(145,44,107) 71.03%,rgb(145,44,106) 74.77%,rgb(143,43,104) 78.50%,rgb(139,41,102) 82.24%,rgb(134,39,98) 85.98%,rgb(129,37,95) 89.72%,rgb(124,34,92) 93.46%,rgb(115,29,91) 100.00%)"></div><div class="b" style="top:603px;height:32px;background:linear-gradient(to right,rgb(51,29,45) 0.00%,rgb(53,29,47) 3.74%,rgb(56,28,50) 7.48%,rgb(59,28,52) 11.21%,rgb(61,28,54) 14.95%,rgb(64,28,56) 18.69%,rgb(67,28,59) 22.43%,rgb(71,29,63) 26.17%,rgb(77,30,66) 29.91%,rgb(84,31,69) 33.64%,rgb(93,31,72) 37.38%,rgb(102,32,75) 41.12%,rgb(110,33,79) 44.86%,rgb(117,34,83) 48.60%,rgb(123,34,87) 52.34%,rgb(129,36,92) 56.07%,rgb(136,38,97) 59.81%,rgb(141,40,101) 63.55%,rgb(146,42,104) 67.29%,rgb(148,43,104) 71.03%,rgb(148,43,102) 74.77%,rgb(146,42,99) 78.50%,rgb(142,40,97) 82.24%,rgb(137,38,95) 85.98%,rgb(132,36,93) 89.72%,rgb(127,33,91) 93.46%,rgb(118,29,91) 100.00%);-webkit-mask-image:linear-gradient(to bottom,transparent,#000);mask-image:linear-gradient(to bottom,transparent,#000)"></div><div class="b" style="top:635px;height:32px;background:linear-gradient(to right,rgb(51,29,45) 0.00%,rgb(53,29,47) 3.74%,rgb(56,28,50) 7.48%,rgb(59,28,52) 11.21%,rgb(61,28,54) 14.95%,rgb(64,28,56) 18.69%,rgb(67,28,59) 22.43%,rgb(71,29,63) 26.17%,rgb(77,30,66) 29.91%,rgb(84,31,69) 33.64%,rgb(93,31,72) 37.38%,rgb(102,32,75) 41.12%,rgb(110,33,79) 44.86%,rgb(117,34,83) 48.60%,rgb(123,34,87) 52.34%,rgb(129,36,92) 56.07%,rgb(136,38,97) 59.81%,rgb(141,40,101) 63.55%,rgb(146,42,104) 67.29%,rgb(148,43,104) 71.03%,rgb(148,43,102) 74.77%,rgb(146,42,99) 78.50%,rgb(142,40,97) 82.24%,rgb(137,38,95) 85.98%,rgb(132,36,93) 89.72%,rgb(127,33,91) 93.46%,rgb(118,29,91) 100.00%)"></div><div class="b" style="top:635px;height:32px;background:linear-gradient(to right,rgb(50,28,42) 0.00%,rgb(52,28,44) 3.74%,rgb(55,28,46) 7.48%,rgb(58,28,49) 11.21%,rgb(60,27,51) 14.95%,rgb(63,27,53) 18.69%,rgb(66,28,56) 22.43%,rgb(69,30,59) 26.17%,rgb(75,30,62) 29.91%,rgb(82,31,65) 33.64%,rgb(91,31,68) 37.38%,rgb(99,31,71) 41.12%,rgb(107,32,75) 44.86%,rgb(113,32,78) 48.60%,rgb(119,33,82) 52.34%,rgb(127,34,88) 56.07%,rgb(135,37,93) 59.81%,rgb(142,40,98) 63.55%,rgb(147,42,101) 67.29%,rgb(151,43,102) 71.03%,rgb(151,42,99) 74.77%,rgb(148,41,96) 78.50%,rgb(144,39,94) 82.24%,rgb(138,37,91) 85.98%,rgb(133,35,90) 89.72%,rgb(129,33,90) 93.46%,rgb(120,29,90) 100.00%);-webkit-mask-image:linear-gradient(to bottom,transparent,#000);mask-image:linear-gradient(to bottom,transparent,#000)"></div><div class="b" style="top:667px;height:55px;background:linear-gradient(to right,rgb(50,28,42) 0.00%,rgb(52,28,44) 3.74%,rgb(55,28,46) 7.48%,rgb(58,28,49) 11.21%,rgb(60,27,51) 14.95%,rgb(63,27,53) 18.69%,rgb(66,28,56) 22.43%,rgb(69,30,59) 26.17%,rgb(75,30,62) 29.91%,rgb(82,31,65) 33.64%,rgb(91,31,68) 37.38%,rgb(99,31,71) 41.12%,rgb(107,32,75) 44.86%,rgb(113,32,78) 48.60%,rgb(119,33,82) 52.34%,rgb(127,34,88) 56.07%,rgb(135,37,93) 59.81%,rgb(142,40,98) 63.55%,rgb(147,42,101) 67.29%,rgb(151,43,102) 71.03%,rgb(151,42,99) 74.77%,rgb(148,41,96) 78.50%,rgb(144,39,94) 82.24%,rgb(138,37,91) 85.98%,rgb(133,35,90) 89.72%,rgb(129,33,90) 93.46%,rgb(120,29,90) 100.00%)"></div><div class="b" style="top:667px;height:55px;background:linear-gradient(to right,rgb(48,28,37) 0.00%,rgb(51,27,39) 3.74%,rgb(53,27,41) 7.48%,rgb(56,27,43) 11.21%,rgb(59,27,46) 14.95%,rgb(62,27,48) 18.69%,rgb(64,28,50) 22.43%,rgb(68,29,53) 26.17%,rgb(73,30,56) 29.91%,rgb(80,30,59) 33.64%,rgb(87,30,62) 37.38%,rgb(95,30,65) 41.12%,rgb(102,31,68) 44.86%,rgb(109,31,71) 48.60%,rgb(116,31,75) 52.34%,rgb(124,33,81) 56.07%,rgb(133,35,86) 59.81%,rgb(141,38,91) 63.55%,rgb(147,40,95) 67.29%,rgb(151,41,96) 71.03%,rgb(151,41,94) 74.77%,rgb(149,40,91) 78.50%,rgb(145,38,89) 82.24%,rgb(140,36,87) 85.98%,rgb(136,34,87) 89.72%,rgb(131,32,88) 93.46%,rgb(124,29,89) 100.00%);-webkit-mask-image:linear-gradient(to bottom,transparent,#000);mask-image:linear-gradient(to bottom,transparent,#000)"></div></div>
<div class="p" style="left:3px;top:14px;width:442px;height:55px;"></div>
<div class="p" style="left:545px;top:17px;width:307px;height:78px;"></div>
<div class="p" style="left:863px;top:14px;width:307px;height:77px;background:transparent;"></div>
<div class="p" style="left:32px;top:125px;width:141px;height:97.3px;"></div>
<div class="p" style="left:185px;top:125px;width:141px;height:97.3px;"></div>
<div class="p" style="left:338px;top:125px;width:141px;height:97.3px;"></div>
<div class="p" style="left:489px;top:125px;width:141px;height:97.3px;"></div>
<div class="p" style="left:12px;top:232.2px;width:313px;height:215.2px;"></div>
<div class="p" style="left:328px;top:232.2px;width:302px;height:215.2px;"></div>
<div class="p" style="left:643px;top:124.7px;width:526.5px;height:323.3px;"></div>
<div class="p" style="left:12px;top:465px;width:313px;height:243px;"></div>
<div class="p" style="left:328px;top:465px;width:302px;height:243px;"></div>
<div class="p" style="left:643px;top:465px;width:526px;height:243px;"></div>
<svg width="1284" height="727" viewBox="0 0 1284 727"><defs><linearGradient id="ig" x1="0" y1="0" x2="0" y2="1"><stop offset="0" stop-color="#d6d6d6"/><stop offset="0.45" stop-color="#ffffff"/></linearGradient></defs><rect x="3.80" y="14.80" width="440.40" height="53.40" rx="13.20" fill="none" stroke="#2a7fe6" stroke-width="1.6"/><rect x="545.80" y="17.80" width="305.40" height="76.40" rx="13.20" fill="none" stroke="#2a7fe6" stroke-width="1.6"/><rect x="863.80" y="14.80" width="305.40" height="75.40" rx="13.20" fill="none" stroke="#2a7fe6" stroke-width="1.6"/><rect x="32.80" y="125.80" width="139.40" height="95.70" rx="13.20" fill="none" stroke="#2a7fe6" stroke-width="1.6"/><rect x="185.80" y="125.80" width="139.40" height="95.70" rx="13.20" fill="none" stroke="#2a7fe6" stroke-width="1.6"/><rect x="338.80" y="125.80" width="139.40" height="95.70" rx="13.20" fill="none" stroke="#2a7fe6" stroke-width="1.6"/><rect x="489.80" y="125.80" width="139.40" height="95.70" rx="13.20" fill="none" stroke="#2a7fe6" stroke-width="1.6"/><rect x="12.80" y="233.00" width="311.40" height="213.60" rx="13.20" fill="none" stroke="#2a7fe6" stroke-width="1.6"/><rect x="328.80" y="233.00" width="300.40" height="213.60" rx="13.20" fill="none" stroke="#2a7fe6" stroke-width="1.6"/><rect x="643.60" y="125.30" width="525.30" height="322.10" rx="13.40" fill="none" stroke="#2a7fe6" stroke-width="1.2"/><rect x="643.6" y="125.3" width="525.3" height="322.1" fill="none" stroke="#b4aca6" stroke-width="1.3"/><rect x="12.80" y="465.80" width="311.40" height="241.40" rx="13.20" fill="none" stroke="#2a7fe6" stroke-width="1.6"/><rect x="328.80" y="465.80" width="300.40" height="241.40" rx="13.20" fill="none" stroke="#2a7fe6" stroke-width="1.6"/><rect x="643.80" y="465.80" width="524.40" height="241.40" rx="13.20" fill="none" stroke="#2a7fe6" stroke-width="1.6"/><text x="59.5" y="42.6" font-size="16.5" fill="#ffffff" text-anchor="start" font-weight="bold" font-style="italic" letter-spacing="0" textLength="332" lengthAdjust="spacingAndGlyphs">SWAYAM ECOMMERCE SALES DASHBOARD</text><text x="103.9" y="186.1" font-size="44" fill="#ffffff" stroke="#ffffff" stroke-width="0.15" text-anchor="middle" font-weight="normal" font-style="normal" letter-spacing="0" textLength="97.5" lengthAdjust="spacingAndGlyphs">438K</text><text x="103.9" y="211" font-size="13" fill="#f4f4f4" stroke="#f4f4f4" stroke-width="0.15" text-anchor="middle" font-weight="normal" font-style="normal" letter-spacing="0.25" >Sum of Amount</text><text x="257.9" y="186.1" font-size="44" fill="#ffffff" stroke="#ffffff" stroke-width="0.15" text-anchor="middle" font-weight="normal" font-style="normal" letter-spacing="0" textLength="95" lengthAdjust="spacingAndGlyphs">5615</text><text x="257.9" y="211" font-size="13" fill="#f4f4f4" stroke="#f4f4f4" stroke-width="0.15" text-anchor="middle" font-weight="normal" font-style="normal" letter-spacing="0.25" >Sum of Quantity</text><text x="409.8" y="186.1" font-size="44" fill="#ffffff" stroke="#ffffff" stroke-width="0.15" text-anchor="middle" font-weight="normal" font-style="normal" letter-spacing="0" textLength="74.8" lengthAdjust="spacingAndGlyphs">37K</text><text x="409.8" y="211" font-size="13" fill="#f4f4f4" stroke="#f4f4f4" stroke-width="0.15" text-anchor="middle" font-weight="normal" font-style="normal" letter-spacing="0.25" >Sum of Profit</text><text x="561.8" y="186.1" font-size="44" fill="#ffffff" stroke="#ffffff" stroke-width="0.15" text-anchor="middle" font-weight="normal" font-style="normal" letter-spacing="0" textLength="94" lengthAdjust="spacingAndGlyphs">121K</text><text x="561.8" y="211" font-size="13" fill="#f4f4f4" stroke="#f4f4f4" stroke-width="0.15" text-anchor="middle" font-weight="normal" font-style="normal" letter-spacing="0.25" >Sum of AOV</text><text x="564.8" y="38.8" font-size="10" fill="#ffffff" text-anchor="start" font-weight="bold" font-style="normal" letter-spacing="0" >Quarter</text><polyline points="825,32 829.5,36 834,32" fill="none" stroke="rgba(255,255,255,0.18)" stroke-width="1"/><rect x="577.6" y="45.4" width="58.59999999999995" height="38.2" fill="#ffffff" stroke="#8f8f8f" stroke-width="1.2"/><text x="606.9" y="70.1" font-size="12.3" fill="#252423" text-anchor="middle" font-weight="normal" font-style="normal" letter-spacing="0" >Qtr 1</text><rect x="639.9" y="45.4" width="57.3" height="38.2" fill="#ffffff" stroke="#8f8f8f" stroke-width="1.2"/><text x="668.55" y="70.1" font-size="12.3" fill="#252423" text-anchor="middle" font-weight="normal" font-style="normal" letter-spacing="0" >Qtr 2</text><rect x="701.2" y="45.4" width="57.59999999999995" height="38.2" fill="#ffffff" stroke="#8f8f8f" stroke-width="1.2"/><text x="730.0" y="70.1" font-size="12.3" fill="#252423" text-anchor="middle" font-weight="normal" font-style="normal" letter-spacing="0" >Qtr 3</text><rect x="762.9" y="45.4" width="59.00000000000004" height="38.2" fill="#ffffff" stroke="#8f8f8f" stroke-width="1.2"/><text x="792.4" y="70.1" font-size="12.3" fill="#252423" text-anchor="middle" font-weight="normal" font-style="normal" letter-spacing="0" >Qtr 4</text><text x="881.5" y="38.8" font-size="14.5" fill="#ffffff" text-anchor="start" font-weight="bold" font-style="normal" letter-spacing="0" textLength="25.5" lengthAdjust="spacingAndGlyphs">City</text><rect x="879.00" y="48.00" width="274.70" height="27.50" fill="#ffffff"/><text x="884.5" y="68.9" font-size="13" fill="#252423" text-anchor="start" font-weight="normal" font-style="normal" letter-spacing="0" >All</text><polyline points="1134.5,60.3 1140.8,66.2 1146.9,60.3" fill="none" stroke="#4a4a4a" stroke-width="0.9"/><rect x="1069" y="95" width="30" height="28" fill="url(#ig)"/><rect x="1104" y="95" width="29" height="28" fill="url(#ig)"/><rect x="1138" y="95" width="30" height="28" fill="url(#ig)"/><path d="M1074.5,101.8 H1094 L1086.6,110.6 V118.2 H1082.1 V110.6 Z" fill="none" stroke="#8c8c8c" stroke-width="1.2" stroke-linejoin="miter"/><path d="M1118,103.8 H1110.4 V117.8 H1127.4 V112.3 M1110.4,112.3 H1118 V117.8 M1120.6,110.6 L1127.2,104 M1122.6,103.8 H1127.4 V108.6" fill="none" stroke="#8c8c8c" stroke-width="1.2"/><circle cx="1145.8" cy="109" r="1.5" fill="#8c8c8c"/><circle cx="1153.1" cy="109" r="1.5" fill="#8c8c8c"/><circle cx="1160.6" cy="109" r="1.5" fill="#8c8c8c"/><text x="169" y="251.7" font-size="14" fill="#e2dee6" stroke="#e2dee6" stroke-width="0.5" text-anchor="middle" font-weight="normal" font-style="normal" letter-spacing="0.12" >Sum of Amount by State</text><line x1="127.2" y1="269.75" x2="127.2" y2="416.0" stroke="#cdbfcb" stroke-width="1.5" stroke-dasharray="1.5 4.5"/><line x1="244" y1="269.75" x2="244" y2="416.0" stroke="#cdbfcb" stroke-width="1.5" stroke-dasharray="1.5 4.5"/><rect x="126.80" y="281.30" width="119.20" height="24.40" fill="#118dff"/><text x="117.5" y="297.8" font-size="12" fill="#ffffff" stroke="#ffffff" stroke-width="0.15" text-anchor="end" font-weight="normal" font-style="normal" letter-spacing="0" >Maharashtra</text><rect x="126.80" y="313.00" width="102.20" height="24.30" fill="#118dff"/><text x="117.5" y="329.45" font-size="12" fill="#ffffff" stroke="#ffffff" stroke-width="0.15" text-anchor="end" font-weight="normal" font-style="normal" letter-spacing="0" >Madhya Pradesh</text><rect x="126.80" y="344.60" width="45.00" height="24.40" fill="#118dff"/><text x="117.5" y="361.1" font-size="12" fill="#ffffff" stroke="#ffffff" stroke-width="0.15" text-anchor="end" font-weight="normal" font-style="normal" letter-spacing="0" >Uttar Pradesh</text><rect x="126.80" y="376.90" width="26.90" height="24.10" fill="#118dff"/><text x="117.5" y="393.25" font-size="12" fill="#ffffff" stroke="#ffffff" stroke-width="0.15" text-anchor="end" font-weight="normal" font-style="normal" letter-spacing="0" >Delhi</text><text x="127.5" y="429.5" font-size="12" fill="#ffffff" stroke="#ffffff" stroke-width="0.15" text-anchor="middle" font-weight="normal" font-style="normal" letter-spacing="0" >0.0M</text><text x="244" y="429.5" font-size="12" fill="#ffffff" stroke="#ffffff" stroke-width="0.15" text-anchor="middle" font-weight="normal" font-style="normal" letter-spacing="0" >0.1M</text><text x="479.5" y="251.7" font-size="14" fill="#e2dee6" stroke="#e2dee6" stroke-width="0.5" text-anchor="middle" font-weight="normal" font-style="normal" letter-spacing="0.12" >Sum of Quantity by PaymentMode</text><path d="M480.00,282.80 A66.7,66.7 0 0 1 504.16,411.67 L495.07,388.27 A41.6,41.6 0 0 0 480.00,307.90 Z" fill="#118dff"/><path d="M504.16,411.67 A66.7,66.7 0 0 1 427.04,390.05 L446.97,374.79 A41.6,41.6 0 0 0 495.07,388.27 Z" fill="#12239e"/><path d="M427.04,390.05 A66.7,66.7 0 0 1 414.26,338.24 L439.00,342.48 A41.6,41.6 0 0 0 446.97,374.79 Z" fill="#e66c37"/><path d="M414.26,338.24 A66.7,66.7 0 0 1 440.12,296.04 L455.13,316.15 A41.6,41.6 0 0 0 439.00,342.48 Z" fill="#6b007b"/><path d="M440.12,296.04 A66.7,66.7 0 0 1 480.00,282.80 L480.00,307.90 A41.6,41.6 0 0 0 455.13,316.15 Z" fill="#e044a7"/><text x="543.7" y="297" font-size="12.8" fill="#ffffff" stroke="#ffffff" stroke-width="0.15" text-anchor="start" font-weight="normal" font-style="normal" letter-spacing="0.1" >COD 44%</text><polyline points="523.5,296.5 529,291.5 538,291.5" fill="none" stroke="#c8b8c8" stroke-width="1"/><text x="428" y="274.6" font-size="12.8" fill="#ffffff" stroke="#ffffff" stroke-width="0.15" text-anchor="middle" font-weight="normal" font-style="normal" letter-spacing="0.1" >EMI</text><text x="428" y="292.3" font-size="12.8" fill="#ffffff" stroke="#ffffff" stroke-width="0.15" text-anchor="middle" font-weight="normal" font-style="normal" letter-spacing="0.1" >10%</text><polyline points="444,278.6 455,278.6 458,285.5" fill="none" stroke="#c8b8c8" stroke-width="1"/><text x="407" y="297" font-size="12.8" fill="#ffffff" stroke="#ffffff" stroke-width="0.15" text-anchor="end" font-weight="normal" font-style="normal" letter-spacing="0.1" >Credit Card</text><text x="407" y="313.7" font-size="12.8" fill="#ffffff" stroke="#ffffff" stroke-width="0.15" text-anchor="end" font-weight="normal" font-style="normal" letter-spacing="0.1" >12%</text><polyline points="411.5,300 423,300 429,305" fill="none" stroke="#c8b8c8" stroke-width="1"/><text x="396.6" y="380" font-size="12.8" fill="#ffffff" stroke="#ffffff" stroke-width="0.15" text-anchor="end" font-weight="normal" font-style="normal" letter-spacing="0.1" >Debit C...</text><text x="396.6" y="397.5" font-size="12.8" fill="#ffffff" stroke="#ffffff" stroke-width="0.15" text-anchor="end" font-weight="normal" font-style="normal" letter-spacing="0.1" >13%</text><polyline points="401.5,383 413,383 419,379" fill="none" stroke="#c8b8c8" stroke-width="1"/><text x="396.6" y="427.5" font-size="12.8" fill="#ffffff" stroke="#ffffff" stroke-width="0.15" text-anchor="start" font-weight="normal" font-style="normal" letter-spacing="0" >UPI 21%</text><polyline points="449,422.5 461.4,422.5 463.3,416.3" fill="none" stroke="#c8b8c8" stroke-width="1"/><text x="906.8" y="144" font-size="14" fill="#e2dee6" stroke="#e2dee6" stroke-width="0.5" text-anchor="middle" font-weight="normal" font-style="normal" letter-spacing="0.12" >Profit by Month</text><line x1="683.75" y1="162.09999999999997" x2="1160.0" y2="162.09999999999997" stroke="#cdbfcb" stroke-width="1.5" stroke-dasharray="1.5 4.5"/><text x="675" y="166.39999999999998" font-size="12" fill="#ffffff" stroke="#ffffff" stroke-width="0.15" text-anchor="end" font-weight="normal" font-style="normal" letter-spacing="0" >15K</text><line x1="683.75" y1="215.7" x2="1160.0" y2="215.7" stroke="#cdbfcb" stroke-width="1.5" stroke-dasharray="1.5 4.5"/><text x="675" y="220.0" font-size="12" fill="#ffffff" stroke="#ffffff" stroke-width="0.15" text-anchor="end" font-weight="normal" font-style="normal" letter-spacing="0" >10K</text><line x1="683.75" y1="269.29999999999995" x2="1160.0" y2="269.29999999999995" stroke="#cdbfcb" stroke-width="1.5" stroke-dasharray="1.5 4.5"/><text x="675" y="273.59999999999997" font-size="12" fill="#ffffff" stroke="#ffffff" stroke-width="0.15" text-anchor="end" font-weight="normal" font-style="normal" letter-spacing="0" >5K</text><line x1="683.75" y1="322.9" x2="1160.0" y2="322.9" stroke="#cdbfcb" stroke-width="1.5" stroke-dasharray="1.5 4.5"/><text x="675" y="327.2" font-size="12" fill="#ffffff" stroke="#ffffff" stroke-width="0.15" text-anchor="end" font-weight="normal" font-style="normal" letter-spacing="0" >0K</text><line x1="683.75" y1="376.5" x2="1160.0" y2="376.5" stroke="#cdbfcb" stroke-width="1.5" stroke-dasharray="1.5 4.5"/><text x="675" y="380.8" font-size="12" fill="#ffffff" stroke="#ffffff" stroke-width="0.15" text-anchor="end" font-weight="normal" font-style="normal" letter-spacing="0" >-5K</text><rect x="699.60" y="219.02" width="29.60" height="103.88" fill="#118dff"/><text x="709.4000000000001" y="388.5" font-size="11.6" fill="#ffffff" stroke="#ffffff" stroke-width="0.15" text-anchor="end" font-weight="normal" font-style="normal" letter-spacing="0" transform="rotate(-35 709.4000000000001 388.5)">January</text><rect x="737.39" y="231.99" width="29.60" height="90.91" fill="#118dff"/><text x="747.19" y="388.5" font-size="11.6" fill="#ffffff" stroke="#ffffff" stroke-width="0.15" text-anchor="end" font-weight="normal" font-style="normal" letter-spacing="0" transform="rotate(-35 747.19 388.5)">February</text><rect x="775.18" y="238.96" width="29.60" height="83.94" fill="#118dff"/><text x="784.98" y="388.5" font-size="11.6" fill="#ffffff" stroke="#ffffff" stroke-width="0.15" text-anchor="end" font-weight="normal" font-style="normal" letter-spacing="0" transform="rotate(-35 784.98 388.5)">March</text><rect x="812.97" y="278.09" width="29.60" height="44.81" fill="#118dff"/><text x="822.77" y="388.5" font-size="11.6" fill="#ffffff" stroke="#ffffff" stroke-width="0.15" text-anchor="end" font-weight="normal" font-style="normal" letter-spacing="0" transform="rotate(-35 822.77 388.5)">April</text><rect x="850.76" y="322.90" width="29.60" height="40.20" fill="#e66c37"/><text x="860.56" y="388.5" font-size="11.6" fill="#ffffff" stroke="#ffffff" stroke-width="0.15" text-anchor="end" font-weight="normal" font-style="normal" letter-spacing="0" transform="rotate(-35 860.56 388.5)">May</text><rect x="888.55" y="318.29" width="29.60" height="4.61" fill="#118dff"/><text x="898.3499999999999" y="388.5" font-size="11.6" fill="#ffffff" stroke="#ffffff" stroke-width="0.15" text-anchor="end" font-weight="normal" font-style="normal" letter-spacing="0" transform="rotate(-35 898.3499999999999 388.5)">June</text><rect x="926.34" y="322.90" width="29.60" height="23.16" fill="#e66c37"/><text x="936.1400000000001" y="388.5" font-size="11.6" fill="#ffffff" stroke="#ffffff" stroke-width="0.15" text-anchor="end" font-weight="normal" font-style="normal" letter-spacing="0" transform="rotate(-35 936.1400000000001 388.5)">July</text><rect x="964.13" y="300.71" width="29.60" height="22.19" fill="#118dff"/><text x="973.9300000000001" y="388.5" font-size="11.6" fill="#ffffff" stroke="#ffffff" stroke-width="0.15" text-anchor="end" font-weight="normal" font-style="normal" letter-spacing="0" transform="rotate(-35 973.9300000000001 388.5)">August</text><rect x="1001.92" y="322.90" width="29.60" height="15.33" fill="#e66c37"/><text x="1011.72" y="388.5" font-size="11.6" fill="#ffffff" stroke="#ffffff" stroke-width="0.15" text-anchor="end" font-weight="normal" font-style="normal" letter-spacing="0" transform="rotate(-35 1011.72 388.5)">September</text><rect x="1039.71" y="291.17" width="29.60" height="31.73" fill="#118dff"/><text x="1049.51" y="388.5" font-size="11.6" fill="#ffffff" stroke="#ffffff" stroke-width="0.15" text-anchor="end" font-weight="normal" font-style="normal" letter-spacing="0" transform="rotate(-35 1049.51 388.5)">October</text><rect x="1077.50" y="213.02" width="29.60" height="109.88" fill="#118dff"/><text x="1087.3" y="388.5" font-size="11.6" fill="#ffffff" stroke="#ffffff" stroke-width="0.15" text-anchor="end" font-weight="normal" font-style="normal" letter-spacing="0" transform="rotate(-35 1087.3 388.5)">November</text><rect x="1115.29" y="322.90" width="29.60" height="17.15" fill="#e66c37"/><text x="1125.09" y="388.5" font-size="11.6" fill="#ffffff" stroke="#ffffff" stroke-width="0.15" text-anchor="end" font-weight="normal" font-style="normal" letter-spacing="0" transform="rotate(-35 1125.09 388.5)">December</text><text x="169" y="484" font-size="14" fill="#e2dee6" stroke="#e2dee6" stroke-width="0.5" text-anchor="middle" font-weight="normal" font-style="normal" letter-spacing="0.12" >Sum of Amount by CustomerName</text><line x1="116.2" y1="500.75" x2="116.2" y2="676.0" stroke="#cdbfcb" stroke-width="1.5" stroke-dasharray="1.5 4.5"/><line x1="211.3" y1="500.75" x2="211.3" y2="676.0" stroke="#cdbfcb" stroke-width="1.5" stroke-dasharray="1.5 4.5"/><line x1="306.4" y1="500.75" x2="306.4" y2="676.0" stroke="#cdbfcb" stroke-width="1.5" stroke-dasharray="1.5 4.5"/><rect x="115.80" y="515.80" width="188.10" height="29.30" fill="#e66c37"/><text x="107" y="534.75" font-size="12" fill="#ffffff" stroke="#ffffff" stroke-width="0.15" text-anchor="end" font-weight="normal" font-style="normal" letter-spacing="0" >Harivansh</text><rect x="115.80" y="554.00" width="178.10" height="29.00" fill="#118dff"/><text x="107" y="572.8" font-size="12" fill="#ffffff" stroke="#ffffff" stroke-width="0.15" text-anchor="end" font-weight="normal" font-style="normal" letter-spacing="0" >Madhav</text><rect x="115.80" y="592.00" width="147.70" height="29.20" fill="#118dff"/><text x="107" y="610.9" font-size="12" fill="#ffffff" stroke="#ffffff" stroke-width="0.15" text-anchor="end" font-weight="normal" font-style="normal" letter-spacing="0" >Madan Mohan</text><rect x="115.80" y="630.20" width="120.50" height="28.60" fill="#118dff"/><text x="107" y="648.8" font-size="12" fill="#ffffff" stroke="#ffffff" stroke-width="0.15" text-anchor="end" font-weight="normal" font-style="normal" letter-spacing="0" >Shiva</text><text x="115.8" y="690" font-size="12" fill="#ffffff" stroke="#ffffff" stroke-width="0.15" text-anchor="middle" font-weight="normal" font-style="normal" letter-spacing="0" >0K</text><text x="211.3" y="690" font-size="12" fill="#ffffff" stroke="#ffffff" stroke-width="0.15" text-anchor="middle" font-weight="normal" font-style="normal" letter-spacing="0" >5K</text><text x="306.4" y="690" font-size="12" fill="#ffffff" stroke="#ffffff" stroke-width="0.15" text-anchor="middle" font-weight="normal" font-style="normal" letter-spacing="0" >10K</text><text x="479.8" y="484" font-size="14" fill="#e2dee6" stroke="#e2dee6" stroke-width="0.5" text-anchor="middle" font-weight="normal" font-style="normal" letter-spacing="0.12" >Sum of Quantity by Category</text><path d="M480.20,521.20 A75,75 0 1 1 426.50,648.56 L446.55,629.01 A47,47 0 1 0 480.20,549.20 Z" fill="#118dff"/><path d="M426.50,648.56 A75,75 0 0 1 414.48,560.07 L439.01,573.56 A47,47 0 0 0 446.55,629.01 Z" fill="#169b6b"/><path d="M414.48,560.07 A75,75 0 0 1 480.20,521.20 L480.20,549.20 A47,47 0 0 0 439.01,573.56 Z" fill="#e66c37"/><text x="421.2" y="520.3" font-size="12.8" fill="#ffffff" stroke="#ffffff" stroke-width="0.15" text-anchor="end" font-weight="normal" font-style="normal" letter-spacing="0.1" >Furniture</text><text x="421.2" y="538.2" font-size="12.8" fill="#ffffff" stroke="#ffffff" stroke-width="0.15" text-anchor="end" font-weight="normal" font-style="normal" letter-spacing="0.1" >17%</text><polyline points="426.2,523 436,523 441.6,529.4" fill="none" stroke="#c8b8c8" stroke-width="1"/><text x="388" y="630.4" font-size="12.8" fill="#ffffff" stroke="#ffffff" stroke-width="0.15" text-anchor="end" font-weight="normal" font-style="normal" letter-spacing="0.1" >Electr...</text><text x="388" y="646.5" font-size="12.8" fill="#ffffff" stroke="#ffffff" stroke-width="0.15" text-anchor="end" font-weight="normal" font-style="normal" letter-spacing="0.1" >21%</text><polyline points="393.3,632.7 405,632.7 411.2,629.5" fill="none" stroke="#c8b8c8" stroke-width="1"/><text x="512" y="684" font-size="12.8" fill="#ffffff" stroke="#ffffff" stroke-width="0.15" text-anchor="start" font-weight="normal" font-style="normal" letter-spacing="0.1" >Clothing 63%</text><polyline points="494.4,671.2 495.7,678.8 507.8,678.8" fill="none" stroke="#c8b8c8" stroke-width="1"/><text x="906.6" y="484" font-size="14" fill="#e2dee6" stroke="#e2dee6" stroke-width="0.5" text-anchor="middle" font-weight="normal" font-style="normal" letter-spacing="0.12" >Sum of Profit by Sub-Category</text><line x1="729.6" y1="500.75" x2="729.6" y2="676.0" stroke="#cdbfcb" stroke-width="1.5" stroke-dasharray="1.5 4.5"/><line x1="941.5" y1="500.75" x2="941.5" y2="676.0" stroke="#cdbfcb" stroke-width="1.5" stroke-dasharray="1.5 4.5"/><line x1="1153.7" y1="500.75" x2="1153.7" y2="676.0" stroke="#cdbfcb" stroke-width="1.5" stroke-dasharray="1.5 4.5"/><rect x="729.20" y="513.60" width="365.50" height="23.70" fill="#118dff"/><text x="720" y="529.75" font-size="12" fill="#ffffff" stroke="#ffffff" stroke-width="0.15" text-anchor="end" font-weight="normal" font-style="normal" letter-spacing="0" >Printers</text><rect x="729.20" y="545.00" width="276.80" height="23.80" fill="#118dff"/><text x="720" y="561.1999999999999" font-size="12" fill="#ffffff" stroke="#ffffff" stroke-width="0.15" text-anchor="end" font-weight="normal" font-style="normal" letter-spacing="0" >Bookcases</text><rect x="729.20" y="576.40" width="172.40" height="23.30" fill="#118dff"/><text x="720" y="592.3499999999999" font-size="12" fill="#ffffff" stroke="#ffffff" stroke-width="0.15" text-anchor="end" font-weight="normal" font-style="normal" letter-spacing="0" >Saree</text><rect x="729.20" y="607.40" width="142.20" height="23.30" fill="#118dff"/><text x="720" y="623.3499999999999" font-size="12" fill="#ffffff" stroke="#ffffff" stroke-width="0.15" text-anchor="end" font-weight="normal" font-style="normal" letter-spacing="0" >Accessories</text><rect x="729.20" y="638.40" width="133.30" height="23.70" fill="#118dff"/><text x="720" y="654.55" font-size="12" fill="#ffffff" stroke="#ffffff" stroke-width="0.15" text-anchor="end" font-weight="normal" font-style="normal" letter-spacing="0" >Tables</text><text x="729.2" y="690.5" font-size="12" fill="#ffffff" stroke="#ffffff" stroke-width="0.15" text-anchor="middle" font-weight="normal" font-style="normal" letter-spacing="0" >0K</text><text x="941.5" y="690.5" font-size="12" fill="#ffffff" stroke="#ffffff" stroke-width="0.15" text-anchor="middle" font-weight="normal" font-style="normal" letter-spacing="0" >5K</text><text x="1154" y="690.5" font-size="12" fill="#ffffff" stroke="#ffffff" stroke-width="0.15" text-anchor="middle" font-weight="normal" font-style="normal" letter-spacing="0" >...</text></svg>
</body></html>
